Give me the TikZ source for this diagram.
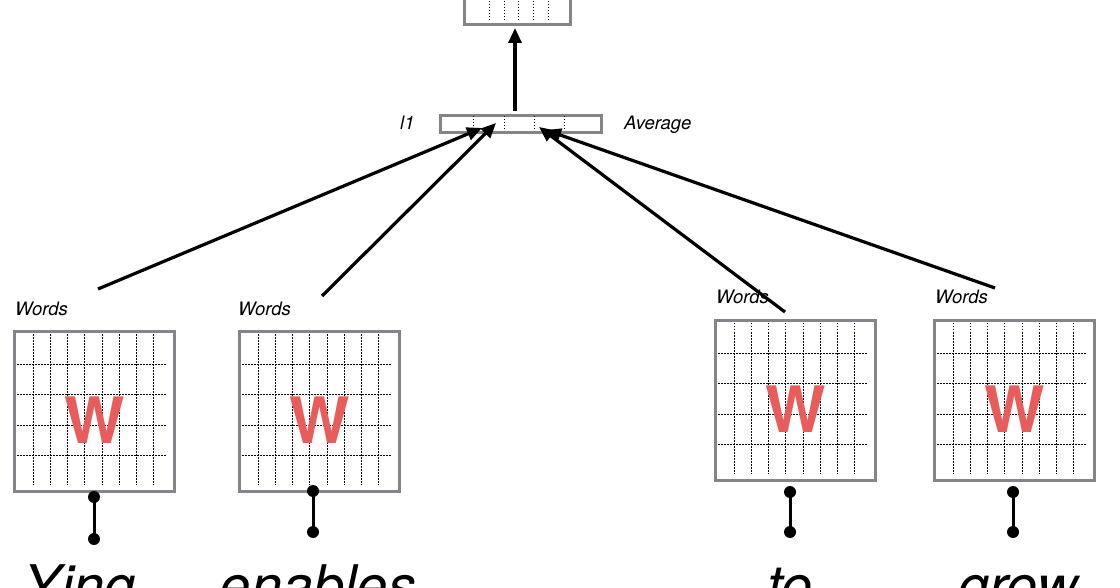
\documentclass[tikz,border=0pt]{standalone}
\usepackage{fontspec}
\setmainfont{TeX Gyre Heros}
\usetikzlibrary{arrows.meta}
\definecolor{bx}{HTML}{858589}
\definecolor{wr}{HTML}{E85C5C}
\tikzset{
  mat/.style={draw=bx,line width=3pt,minimum width=160pt,minimum height=160pt,inner sep=0pt,anchor=north west},
  grid/.style={black,line width=0.9pt,dash pattern=on 1.5pt off 1.5pt},
  arr/.style={line width=3.2pt,-{Triangle[length=15pt,width=13pt]}},
  lbl/.style={font=\itshape\fontsize{18.5}{18.5}\selectfont,anchor=base west,inner sep=0pt},
  big/.style={font=\itshape\fontsize{56}{56}\selectfont,anchor=base,inner sep=0pt},
  wl/.style={font=\bfseries\fontsize{64}{64}\selectfont,text=wr,inner sep=0pt}
}
\newcommand{\wmat}[3]{% name, x, y
  \node[mat] (#1) at (#2,#3) {};
  \foreach \o in {20,37,54,71,89,106,123,140}{\draw[grid] (#2+\o,#3+4) -- (#2+\o,#3+155);}
  \foreach \o in {34,64,95,125}{\draw[grid] (#2+4,#3+\o) -- (#2+154,#3+\o);}
  \node[wl] (#1w) at (#2+82,#3+90) {W};
}
\begin{document}
\begin{tikzpicture}[x=1pt,y=-1pt]
\useasboundingbox (0,0) rectangle (1120,588);
% top vector
\node[draw=bx,line width=3pt,minimum width=106pt,minimum height=30pt,inner sep=0pt,anchor=north west] (top) at (463,-7) {};
\foreach \x in {489,504,518,533,548}{\draw[grid] (\x,-5) -- (\x,21);}
% l1 vector
\node[draw=bx,line width=3pt,minimum width=161pt,minimum height=17pt,inner sep=0pt,anchor=north west] (l1) at (439,114) {};
\foreach \x in {473,504,534,564}{\draw[grid] (\x,116) -- (\x,129);}
\node[lbl] (l1t) at (400,130) {l1};
\node[lbl] (avg) at (624,130) {Average};
\coordinate (up0) at (515,111);
\coordinate (up1) at (515,28);
\draw[arr] (up0) -- (up1);
% matrices
\wmat{m1}{13}{330}
\wmat{m2}{238}{330}
\wmat{m3}{714}{319}
\wmat{m4}{933}{319}
\node[lbl] (w1) at (15,316) {Words};
\node[lbl] (w2) at (238,316) {Words};
\node[lbl] (w3) at (716,304) {Words};
\node[lbl] (w4) at (935,304) {Words};
% arrows to l1
\coordinate (s1) at (98,289); \coordinate (e1) at (482,128);
\coordinate (s2) at (322,296); \coordinate (e2) at (496,123);
\coordinate (s3) at (785,312); \coordinate (e3) at (539,127);
\coordinate (s4) at (995,288); \coordinate (e4) at (546,130);
\draw[arr] (s1) -- (e1);
\draw[arr] (s2) -- (e2);
\draw[arr] (s3) -- (e3);
\draw[arr] (s4) -- (e4);
% connectors
\coordinate (a1) at (94,497); \coordinate (b1) at (94,539);
\coordinate (a2) at (313,491); \coordinate (b2) at (313,532);
\coordinate (a3) at (790,492); \coordinate (b3) at (790,532);
\coordinate (a4) at (1013,492); \coordinate (b4) at (1013,532);
\foreach \i in {1,2,3,4}{
  \draw[line width=3pt] (a\i) -- (b\i);
  \fill (a\i) circle (6pt); \fill (b\i) circle (6pt);
}
% words
\node[big] (t1) at (80,605) {Ying};
\node[big] (t2) at (318,605) {enables};
\node[big] (t3) at (790,605) {to};
\node[big] (t4) at (1018,605) {grow};
\end{tikzpicture}
\end{document}
